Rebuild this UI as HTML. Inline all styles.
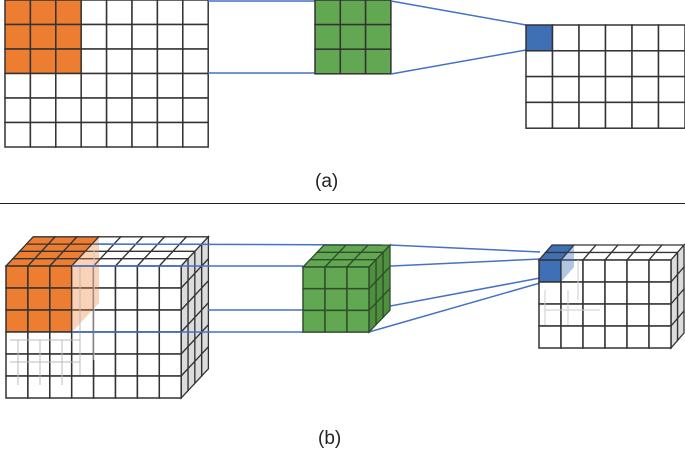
<!DOCTYPE html>
<html><head><meta charset="utf-8">
<style>
html,body{margin:0;padding:0;background:#fff;width:685px;height:454px;overflow:hidden}
svg{display:block}
text{font-family:"Liberation Sans",sans-serif;font-size:19px;fill:#222}
</style></head>
<body>
<svg id="s" width="685" height="454" viewBox="0 0 685 454" xmlns="http://www.w3.org/2000/svg">
<text x="315" y="187">(a)</text>
<text x="318" y="444">(b)</text>
<line x1="0" y1="203.5" x2="685" y2="203.5" stroke="#222" stroke-width="1"/>
</svg>
<script>
var s=document.getElementById('s');var NS='http://www.w3.org/2000/svg';
function el(t,a){var e=document.createElementNS(NS,t);for(var k in a)e.setAttribute(k,a[k]);s.appendChild(e);return e;}
function rect(x,y,w,h,f,st){el('rect',{x:x,y:y,width:w,height:h,fill:f,stroke:st||'#333','stroke-width':1.5});}
function line(a,b,c,d,col,w){el('line',{x1:a,y1:b,x2:c,y2:d,stroke:col||'#4472c4','stroke-width':w||1.5});}
function poly(p,f,st,w){el('polygon',{points:p.map(function(q){return q.join(',')}).join(' '),fill:f,stroke:st||'#333','stroke-width':w||1.3});}
function grid(x,y,cols,rows,cw,ch,fill){for(var r=0;r<rows;r++)for(var c=0;c<cols;c++)rect(x+c*cw,y+r*ch,cw,ch,fill?fill(r,c):'#fff');}
grid(5,0,8,6,25.4,24.5,function(r,c){return (r<3&&c<3)?'#ed7d31':'#fff'});
line(208,1,315,1);line(208,73,315,73);
grid(315,0,3,3,25.3,24.6,function(){return '#62a752'});
line(391,1,526,25);line(391,74,526,50);
grid(526,25,6,4,26.5,25.8,function(r,c){return (r==0&&c==0)?'#3f6fb5':'#fff'});
function cube(x,y,cols,rows,cw,ch,d,dx,dy,front,top,side,stc){
  var st=stc||'#333';
  for(var k=d-1;k>=0;k--)for(var c=0;c<cols;c++){
    var x0=x+c*cw+k*dx,y0=y+k*dy;
    poly([[x0,y0],[x0+cw,y0],[x0+cw+dx,y0+dy],[x0+dx,y0+dy]],top(k,c),st);
  }
  var xr=x+cols*cw;
  for(var k=d-1;k>=0;k--)for(var r=0;r<rows;r++){
    var x0=xr+k*dx,y0=y+r*ch+k*dy;
    poly([[x0,y0],[x0+dx,y0+dy],[x0+dx,y0+dy+ch],[x0,y0+ch]],side(k,r),st);
  }
  for(var r=0;r<rows;r++)for(var c=0;c<cols;c++)rect(x+c*cw,y+r*ch,cw,ch,front(r,c),st);
}
cube(6,266,8,6,21.9,22,4,6.8,-7.3,
 function(r,c){return (r<3&&c<3)?'#ed7d31':'#fff'},
 function(k,c){return c<3?'#ed7d31':'#fff'},
 function(){return '#dcdcdc'});
poly([[72,266],[99,237],[99,303],[72,332]],'rgba(237,125,49,0.35)','none');
for(var i=0;i<3;i++){line(10+i*22+8,340,10+i*22+8,385,'#bbb',1);}
line(10,340,80,340,'#bbb',1);line(10,362,80,362,'#bbb',1);
line(80,266,80,375,'#bbb',1);line(94,250,94,360,'#ccc',1);
line(95,244,390,245);line(72,266,303,266);line(208,310,303,310);line(72,332,303,332);
line(390,245,540,252);line(369,267,540,259);line(369,310,540,278);line(369,332,540,283);
cube(303,267,3,3,22,21.7,3,7,-7.3,
 function(){return '#62a752'},function(){return '#62a752'},function(){return '#4e8f40'},'#2f4f2a');
cube(539,260,6,4,22,22,2,6.5,-7.5,
 function(r,c){return (r==0&&c==0)?'#3f6fb5':'#fff'},
 function(k,c){return c==0?'#3f6fb5':'#fff'},
 function(){return '#dcdcdc'});
poly([[561,260],[574,245],[574,267],[561,282]],'rgba(63,111,181,0.4)','none');
line(545,290,545,325,'#ccc',1);line(568,290,568,325,'#ccc',1);line(545,310,600,310,'#ccc',1);line(578,260,578,300,'#ccc',1);
</script>
</body></html>
